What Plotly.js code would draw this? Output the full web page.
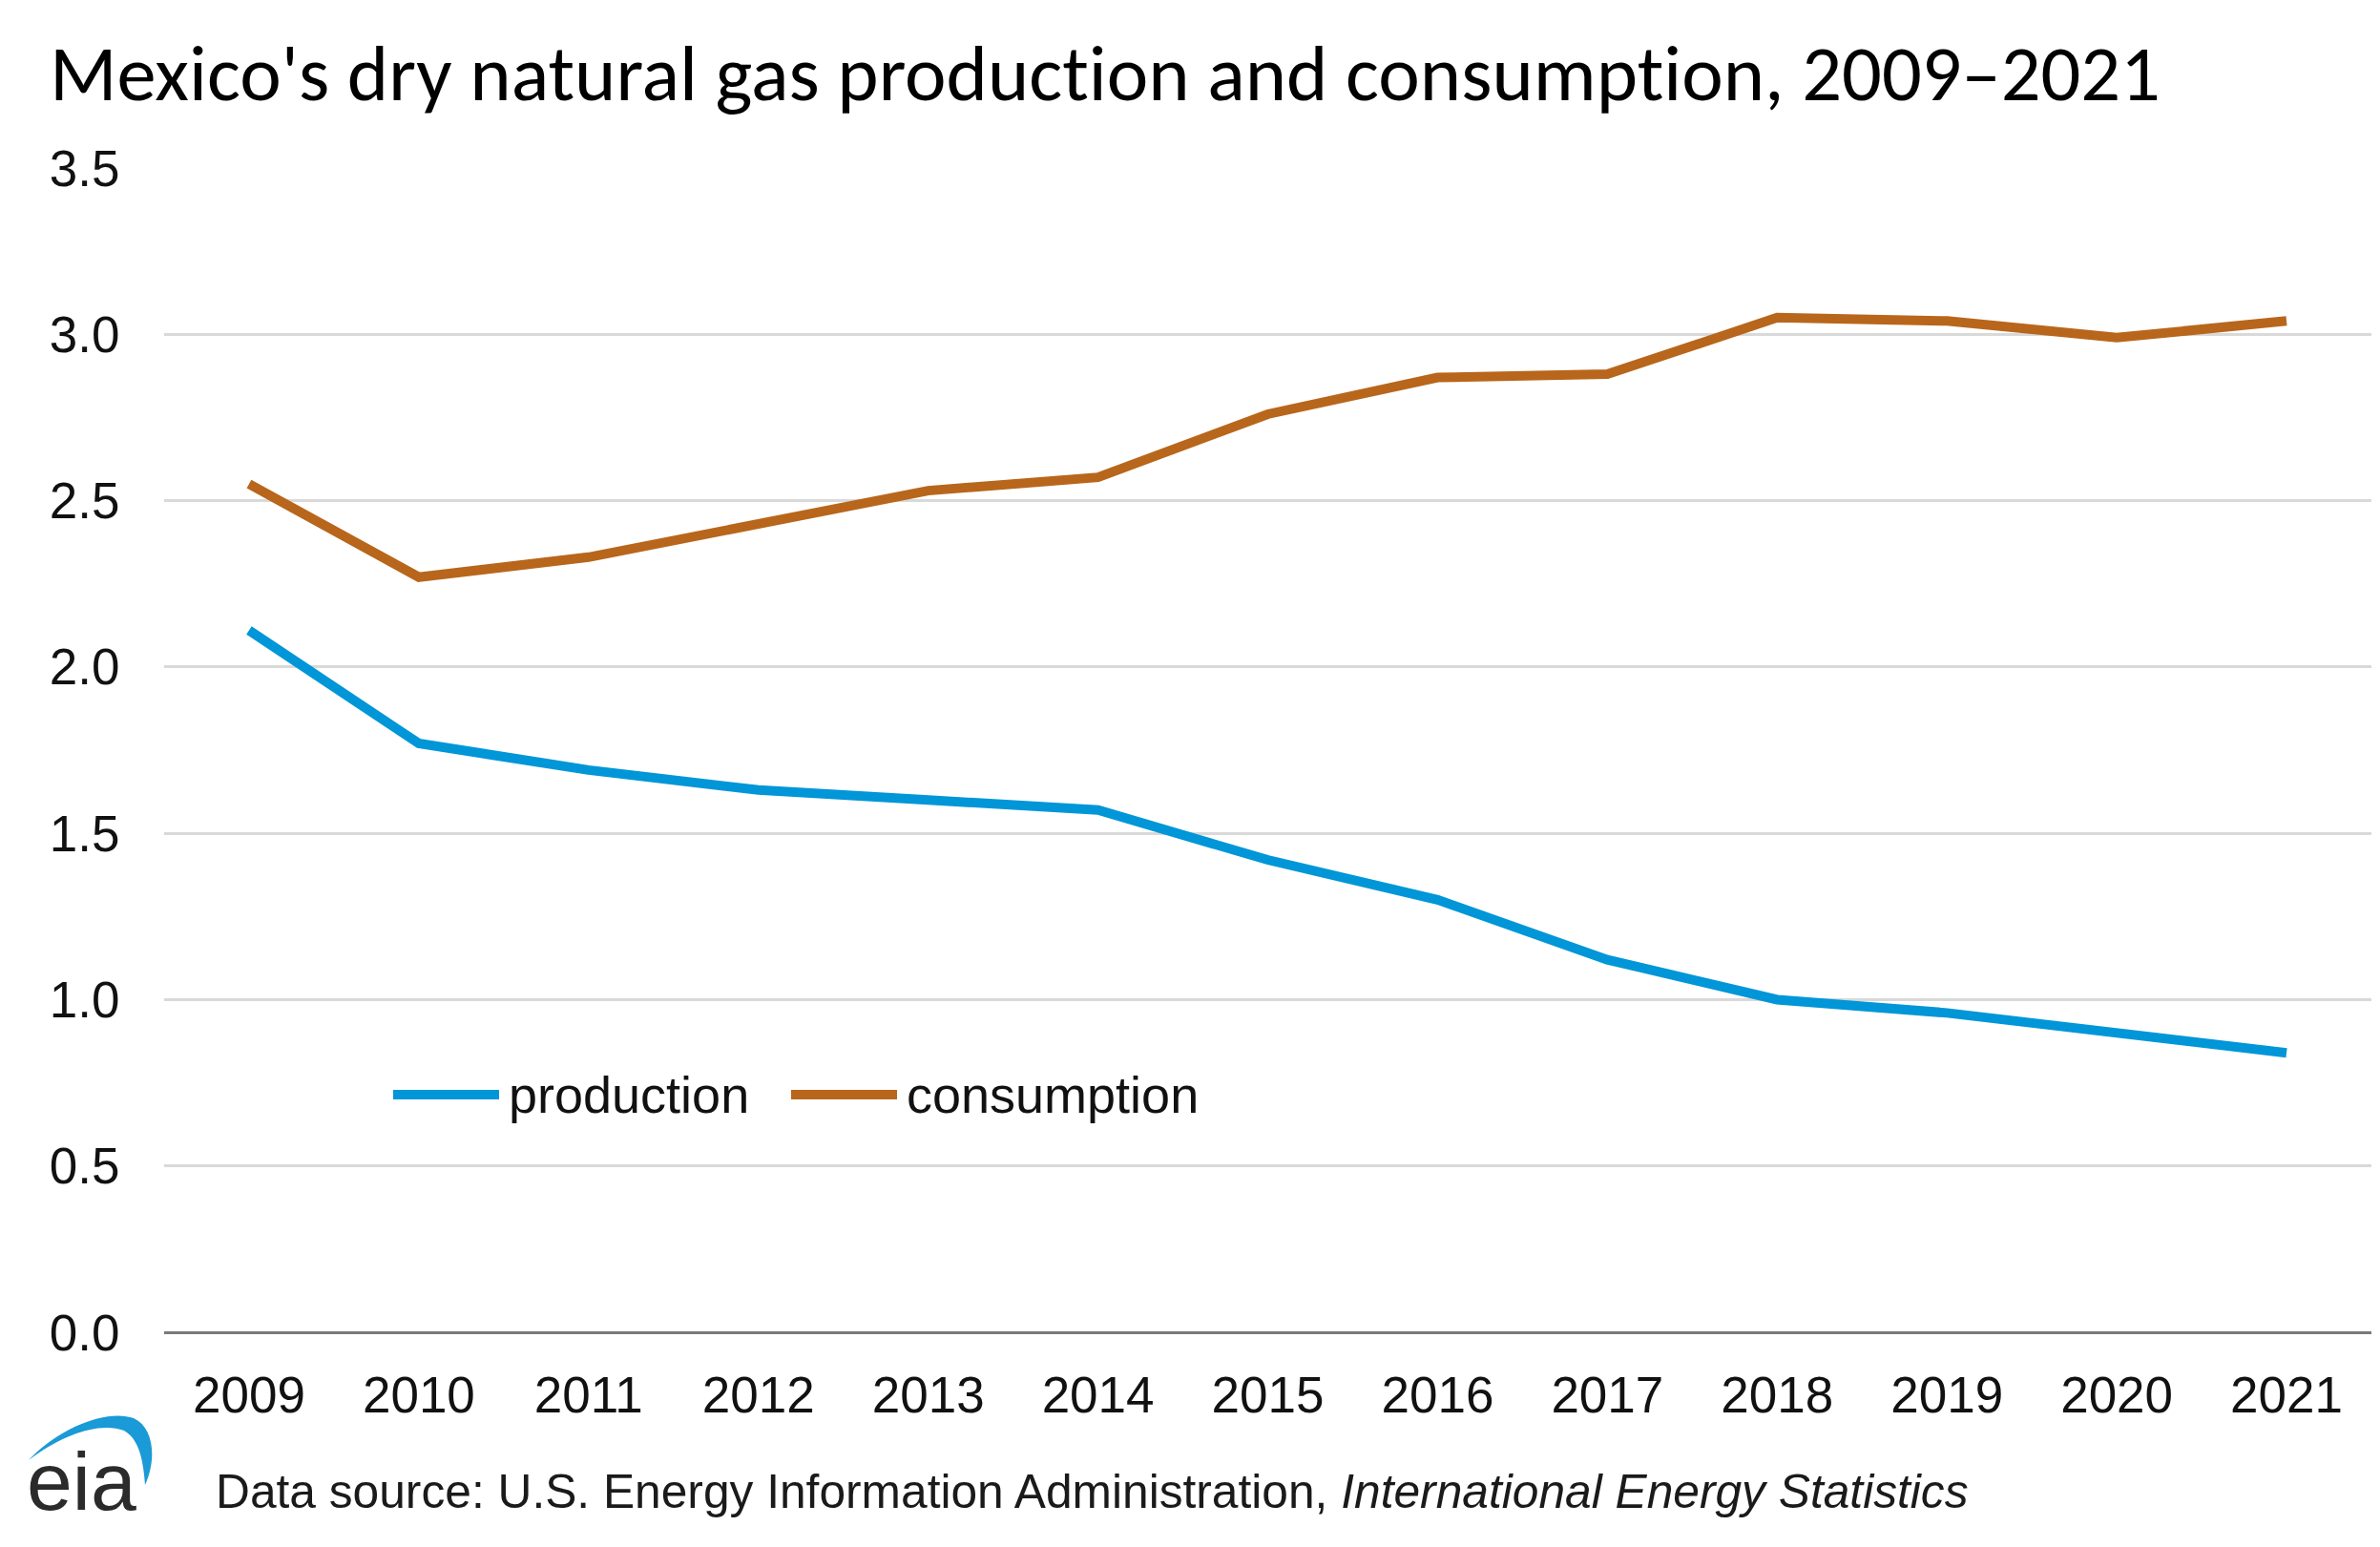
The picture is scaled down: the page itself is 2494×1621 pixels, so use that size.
<!DOCTYPE html>
<html>
<head>
<meta charset="utf-8">
<script src="https://cdn.plot.ly/plotly-3.0.1.min.js"></script>
<style>
  html, body { margin: 0; padding: 0; background: #ffffff; }
  #chart { width: 2494px; height: 1621px; }
  text { font-variant-ligatures: none; font-feature-settings: "liga" 0, "clig" 0; }
</style>
</head>
<body>
<div id="chart"></div>
<script>
// ---- data ----
const years = ['2009','2010','2011','2012','2013','2014','2015','2016','2017','2018','2019','2020','2021'];
const production = [2.11, 1.77, 1.69, 1.63, 1.60, 1.57, 1.42, 1.30, 1.12, 1.00, 0.96, 0.90, 0.84];
const consumption = [2.55, 2.27, 2.33, 2.43, 2.53, 2.57, 2.76, 2.87, 2.88, 3.05, 3.04, 2.99, 3.04];
const yTickVals = [0, 0.5, 1.0, 1.5, 2.0, 2.5, 3.0, 3.5];
const yTickText = ['0.0', '0.5', '1.0', '1.5', '2.0', '2.5', '3.0', '3.5'];
const seriesNames = ['production', 'consumption'];
const titleText = "Mexico's dry natural gas production and consumption, 2009\u20132021";
const sourceText = 'Data source: U.S. Energy Information Administration, <i>International Energy Statistics</i>';

// ---- style ----
const W = 2494, H = 1621;
const M = { l: 172, r: 9, t: 176, b: 225 };
const PW = W - M.l - M.r, PH = H - M.t - M.b;
const px = x => (x - M.l) / PW;          // pixel -> paper x
const py = y => (H - M.b - y) / PH;      // pixel -> paper y
const blue = '#0096d7', brown = '#b8661c';
const tickFont = { family: 'Liberation Sans, Arial, sans-serif', size: 53, color: '#111111' };

const traces = [
  { x: years, y: production, name: seriesNames[0], type: 'scatter', mode: 'lines',
    line: { color: blue, width: 10 }, showlegend: false, hoverinfo: 'x+y+name' },
  { x: years, y: consumption, name: seriesNames[1], type: 'scatter', mode: 'lines',
    line: { color: brown, width: 10 }, showlegend: false, hoverinfo: 'x+y+name' }
];

const arcPath = (() => {
  const P = (x, y) => px(x).toFixed(5) + ',' + py(y).toFixed(5);
  return 'M' + P(30, 1530) +
         ' C' + P(62, 1496) + ' ' + P(112, 1476) + ' ' + P(140, 1486) +
         ' C' + P(162, 1496) + ' ' + P(164, 1530) + ' ' + P(152, 1556) +
         ' C' + P(150, 1530) + ' ' + P(146, 1508) + ' ' + P(130, 1499) +
         ' C' + P(104, 1489) + ' ' + P(64, 1504) + ' ' + P(30, 1530) + ' Z';
})();

const layout = {
  width: W, height: H,
  margin: M,
  paper_bgcolor: '#ffffff', plot_bgcolor: '#ffffff',
  title: {
    text: titleText,
    font: { family: 'Carlito, Calibri, Lato, sans-serif', size: 82.5, color: '#000000' },
    x: 52 / W, xanchor: 'left', xref: 'container',
    y: 1 - 47 / H, yanchor: 'top', yref: 'container'
  },
  xaxis: {
    type: 'category',
    range: [-0.5, 12.5],
    showgrid: false,
    showline: false,
    zeroline: false,
    ticks: 'outside', ticklen: 19, tickcolor: 'rgba(0,0,0,0)',
    tickfont: tickFont,
    fixedrange: true
  },
  yaxis: {
    range: [0, 3.5],
    tickvals: yTickVals, ticktext: yTickText,
    showgrid: true, gridcolor: '#d9d9d9', gridwidth: 3,
    zeroline: true, zerolinecolor: '#7a7a7a', zerolinewidth: 3,
    showline: false,
    ticks: 'outside', ticklen: 35, tickcolor: 'rgba(0,0,0,0)',
    tickfont: tickFont,
    fixedrange: true
  },
  shapes: [
    { type: 'line', xref: 'paper', yref: 'paper', x0: px(412), x1: px(523), y0: py(1147), y1: py(1147),
      line: { color: blue, width: 10 } },
    { type: 'line', xref: 'paper', yref: 'paper', x0: px(829), x1: px(940), y0: py(1147), y1: py(1147),
      line: { color: brown, width: 10 } },
    { type: 'path', xref: 'paper', yref: 'paper', path: arcPath,
      fillcolor: '#1a9ad6', line: { width: 0 } }
  ],
  annotations: [
    { text: seriesNames[0], xref: 'paper', yref: 'paper', x: px(531), y: py(1147),
      xanchor: 'left', yanchor: 'middle', showarrow: false,
      font: { family: 'Liberation Sans, Arial, sans-serif', size: 54, color: '#111111' } },
    { text: seriesNames[1], xref: 'paper', yref: 'paper', x: px(948), y: py(1147),
      xanchor: 'left', yanchor: 'middle', showarrow: false,
      font: { family: 'Liberation Sans, Arial, sans-serif', size: 54, color: '#111111' } },
    { text: sourceText, xref: 'paper', yref: 'paper', x: px(224), y: py(1563),
      xanchor: 'left', yanchor: 'middle', showarrow: false,
      font: { family: 'Liberation Sans, Arial, sans-serif', size: 49.7, color: '#1a1a1a' } },
    { text: 'eia', xref: 'paper', yref: 'paper', x: px(26), y: py(1552),
      xanchor: 'left', yanchor: 'middle', showarrow: false,
      font: { family: 'Liberation Sans, Arial, sans-serif', size: 86, color: '#2b2b2b' } }
  ]
};

Plotly.newPlot('chart', traces, layout, { displayModeBar: false, staticPlot: true });
</script>
</body>
</html>
